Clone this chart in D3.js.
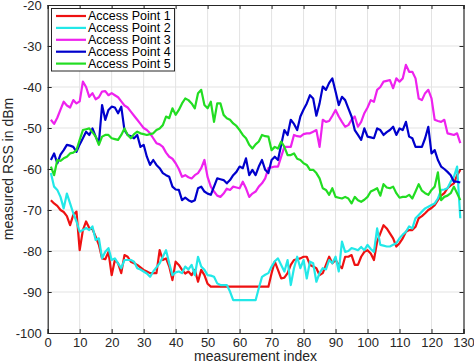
<!DOCTYPE html>
<html><head><meta charset="utf-8">
<script src="https://cdn.jsdelivr.net/npm/d3@7"></script>
<style>html,body{margin:0;padding:0;background:#fff;}svg{display:block;}</style>
</head><body>
<svg id="chart" width="474" height="362"></svg>
<script>
const seriesNames = ["Access Point 1","Access Point 2","Access Point 3","Access Point 4","Access Point 5"];
const seriesColors = ["#ee1111","#22e8e8","#ee22ee","#0000cc","#22dd22"];
const xTicks = [0,10,20,30,40,50,60,70,80,90,100,110,120,130];
const yTicks = [-100,-90,-80,-70,-60,-50,-40,-30,-20];

const ap1 = [-67.6,-68.4,-69,-70,-70.5,-71.5,-73.7,-71.2,-70.4,-79.8,-74.9,-72.8,-74.4,-74.7,-76.5,-78.5,-81.8,-82,-80.2,-85.9,
-82.2,-83,-85.4,-81,-81.4,-82.6,-83,-83.4,-84,-84.6,-85,-85.4,-85.4,-85.4,-79.8,-82.2,-81.8,-83.8,-87.1,-82.6,
-83.4,-84.6,-85.5,-85,-85.9,-84.6,-87.5,-84.6,-85.9,-88,-88.7,-88.7,-88.7,-88.7,-88.7,-88.7,-88.7,-88.7,-88.7,-88.7,
-88.7,-88.7,-88.7,-88.7,-88.7,-88.7,-88.7,-88.7,-88.7,-85.4,-82.6,-84.6,-86.7,-86.5,-85.4,-83.4,-82.2,-82,-81.8,-81.4,
-81.4,-83.4,-83.8,-84.2,-85.9,-85.4,-83.4,-81.4,-83,-82.2,-83.4,-84.2,-81.4,-81.4,-81,-83.4,-83.4,-81.4,-80.2,-79.8,
-80.6,-82.2,-77.7,-75.7,-73.7,-74.5,-75.7,-76.9,-78.9,-78.1,-76.9,-75.3,-74.9,-74.9,-74.1,-72,-71.5,-70.8,-70,-69.5,
-68.8,-67.6,-66.5,-65.9,-64.7,-64,-63.5,-61.5,-60.2];
const ap2 = [-61,-64.3,-65.1,-66.8,-69.6,-66,-68.4,-70.8,-72.8,-75.3,-74.9,-74.4,-74.9,-74,-77.3,-76.9,-81.8,-80.2,-79.3,-82.2,
-81.8,-83,-84.2,-82.2,-82.2,-82.2,-82.6,-84.2,-84.5,-85,-85.5,-86.3,-85,-84,-83,-81.4,-79.8,-83,-85.9,-85.2,
-85,-85.4,-83.8,-84.5,-83.4,-85.9,-81.4,-83.8,-84.6,-85.9,-86,-86.3,-87.9,-88.3,-88.3,-88.3,-89.9,-92,-92,-92,
-92,-92,-92,-92,-92,-89.1,-86.3,-85.8,-85.4,-83.8,-82.5,-81.8,-83.4,-85,-82.2,-88.3,-84.2,-81.4,-84.2,-82.2,
-86.7,-82.6,-83,-87.5,-85.4,-84.2,-84.5,-82.2,-83,-81.4,-85,-77.7,-80.2,-80,-79.3,-79.5,-79.8,-79,-79.8,-78.5,
-79.5,-80.2,-74.5,-78.5,-78.7,-78.9,-78.9,-78.5,-78.1,-76.9,-76,-75.3,-74,-74.5,-72,-71.2,-70.4,-69.6,-69.2,-68.8,
-68.4,-67.2,-65.1,-65,-64.7,-63.1,-61.9,-59.4,-72];
const ap3 = [-48,-49,-47.5,-45.5,-43.6,-44.5,-45,-43.2,-44,-43.5,-38.7,-40,-42.4,-41.5,-43,-42.5,-41.1,-41,-42,-41.5,
-42,-42.5,-43.5,-44.5,-45,-46,-47,-48,-49,-50,-50.5,-51.3,-52.5,-53.7,-54,-54.6,-56,-57,-57.5,-58.6,
-60,-61.9,-61.5,-62,-62.3,-61.5,-61,-59.8,-57.8,-62,-64.3,-65.5,-66.5,-66.8,-66,-64.8,-65.1,-64.3,-64.5,-64.7,
-63.1,-64.7,-66.8,-66,-65.5,-64.3,-63.5,-62.3,-59.8,-59.6,-59.4,-59.4,-57,-54.6,-54.6,-54.6,-51.7,-52,-52.1,-51.5,
-51.3,-51.3,-50.9,-50.5,-54.6,-48,-48.5,-48.3,-47,-45.6,-47.2,-48.5,-49.7,-49.3,-48,-47.2,-49.7,-48.5,-46.4,-45,
-43.2,-43.6,-40.7,-40,-38.7,-38.5,-38.3,-40.3,-37.9,-38.7,-37.9,-34.6,-36.3,-36.3,-37.9,-42.8,-43.2,-41.5,-40.7,-42.8,
-48,-48.3,-48.5,-48,-51.3,-51.5,-51.7,-51.3,-53.7];
const ap4 = [-57.8,-56.2,-58.6,-56.5,-55.4,-54.1,-54.3,-54.6,-55.8,-54,-52.5,-50.9,-51.7,-50.1,-52.1,-53.7,-44.4,-48,-45.6,-44.8,
-45,-46.4,-44.8,-50.5,-51.7,-52,-52.5,-51.7,-54.6,-54.1,-57,-59,-57.8,-59,-59.8,-61,-61.5,-61.9,-64.3,-65,
-65.1,-67.6,-67,-67.6,-68,-67.6,-64.7,-64.3,-65.5,-66,-66.3,-64.3,-62.3,-62.5,-62.7,-63.5,-62.7,-61.5,-60.7,-59.4,
-59.8,-57.4,-61.5,-60.2,-61.5,-59.4,-57.8,-60.2,-61,-57.8,-57,-57.8,-54.1,-50.5,-51.7,-48,-49,-50.5,-47.2,-45.5,
-44,-42,-42.8,-47,-44,-39.9,-40.7,-39,-37.9,-41.1,-44.4,-42.4,-43.2,-45.2,-47.2,-50.5,-51.7,-52.9,-50.1,-52.1,
-52.3,-52.5,-50.1,-50.5,-51.7,-51,-50.5,-49.7,-51.7,-50.1,-50.5,-48.5,-52.1,-52.5,-54.6,-54.6,-54.6,-52.5,-49.7,-56.2,
-55.4,-57.8,-59.4,-60,-60.7,-61.5,-63.1,-63.1,-63.3];
const ap5 = [-59.4,-61.5,-57.8,-58,-57.4,-57,-56.2,-56,-55.4,-52.9,-50.5,-50.3,-50.1,-51,-52.1,-54.1,-52.1,-51.7,-51.7,-52.5,
-52.7,-52.9,-51.7,-50.1,-51.7,-52.5,-51.5,-50.9,-51.3,-51.5,-51.7,-51.5,-51.3,-50.5,-50.1,-49.3,-47.2,-47.6,-45.2,-46.8,
-45.6,-44,-42.8,-43.2,-44,-45.2,-41.5,-40.7,-44.4,-45.2,-43.6,-48.5,-44,-44,-46.8,-47.6,-48,-48.9,-49.5,-50.5,
-51.7,-52.5,-54.1,-55,-54,-53.3,-51.7,-52,-52.1,-55.4,-54.6,-55,-53.3,-54.6,-56.6,-56.6,-56.2,-57.5,-57.8,-58.6,
-59,-60.2,-60.2,-61,-62.3,-64.7,-65.1,-66.3,-64.7,-66.8,-67,-67.2,-66.8,-67.2,-68.4,-66.8,-67.6,-68,-67.5,-66.8,
-65.5,-65.1,-64.7,-66.5,-63.7,-64.5,-64.7,-64.3,-65.9,-67,-66.8,-66.8,-66.3,-67.2,-65.5,-63.7,-65.3,-65.9,-66.3,-65.1,
-64.3,-60.8,-67.6,-66.8,-66.5,-65.9,-64.3,-65.9,-67.6];
const allSeries = [ap1, ap2, ap3, ap4, ap5];

const svg = d3.select("#chart");
const L = 47.7, R = 463.5, T = 5, B = 333;
const x = d3.scaleLinear().domain([0,130]).range([L,R]);
const y = d3.scaleLinear().domain([-100,-20]).range([B,T]);
const font = "Arial, 'Liberation Sans', Helvetica, sans-serif";
const txt = "#262626";

// grid
svg.append("g").selectAll("line").data(xTicks.slice(1,-1)).join("line")
  .attr("x1", d=>x(d)).attr("x2", d=>x(d)).attr("y1", T).attr("y2", B)
  .attr("stroke", "#e3e3e3").attr("stroke-width", 1);
svg.append("g").selectAll("line").data(yTicks.slice(1,-1)).join("line")
  .attr("y1", d=>y(d)).attr("y2", d=>y(d)).attr("x1", L).attr("x2", R)
  .attr("stroke", "#e3e3e3").attr("stroke-width", 1);

// lines
const line = d3.line().x((d,i)=>x(i+1)).y(d=>y(d));
const g = svg.append("g");
allSeries.forEach((s, k) => {
  g.append("path").datum(s).attr("d", line).attr("fill","none")
    .attr("stroke", seriesColors[k]).attr("stroke-width", 2.2).attr("stroke-linejoin","round");
});

// axes
const ax = svg.append("g").attr("font-family", font);
const xb = d3.axisBottom(x).tickValues(xTicks).tickSize(-4).tickPadding(5).tickFormat(d3.format("d"));
const xt = d3.axisTop(x).tickValues(xTicks).tickSize(-4).tickFormat("");
const yl = d3.axisLeft(y).tickValues(yTicks).tickSize(-4).tickPadding(6).tickFormat(d=>String(d).replace("\u2212","-"));
const yr = d3.axisRight(y).tickValues(yTicks).tickSize(-4).tickFormat("");
function style(sel){
  sel.select(".domain").attr("stroke","#262626").attr("stroke-width",1.2);
  sel.selectAll(".tick line").attr("stroke","#262626");
  sel.selectAll("text").attr("fill",txt).attr("font-size",13).attr("font-family",font);
}
ax.append("g").attr("transform",`translate(0,${B})`).call(xb).call(style);
ax.append("g").attr("transform",`translate(0,${T})`).call(xt).call(style);
ax.append("g").attr("transform",`translate(${L},0)`).call(yl).call(style);
ax.append("g").attr("transform",`translate(${R},0)`).call(yr).call(style);

// axis labels
svg.append("text").attr("x", (L+R)/2).attr("y", 361).attr("text-anchor","middle")
  .attr("font-family", font).attr("font-size", 14).attr("fill", txt).text("measurement index");
svg.append("text").attr("transform", `translate(13,${(T+B)/2}) rotate(-90)`).attr("text-anchor","middle")
  .attr("font-family", font).attr("font-size", 14).attr("fill", txt).text("measured RSS in dBm");

// legend
const lg = svg.append("g");
lg.append("rect").attr("x", 51.5).attr("y", 8.5).attr("width", 123).attr("height", 62.5)
  .attr("fill", "#fff").attr("stroke", "#262626").attr("stroke-width", 1);
seriesNames.forEach((n, k) => {
  const yy = 16 + k*11.9;
  lg.append("line").attr("x1", 56).attr("x2", 86).attr("y1", yy).attr("y2", yy)
    .attr("stroke", seriesColors[k]).attr("stroke-width", 2.2);
  lg.append("text").attr("x", 88).attr("y", yy + 4.3).attr("font-family", font)
    .attr("font-size", 12.5).attr("fill", "#000").text(n);
});
</script>
</body></html>
